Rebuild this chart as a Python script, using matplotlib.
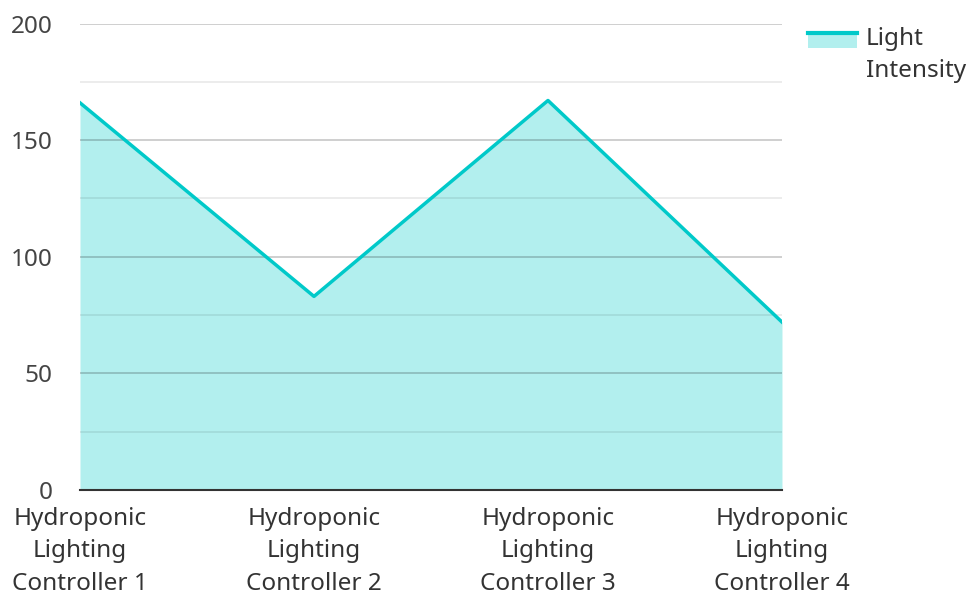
"""Light intensity per hydroponic lighting controller, area chart."""

import matplotlib

matplotlib.use("Agg")

import matplotlib.pyplot as plt
from matplotlib.legend_handler import HandlerBase
from matplotlib.lines import Line2D
from matplotlib.patches import Rectangle

controllers = [
    "Hydroponic\nLighting\nController 1",
    "Hydroponic\nLighting\nController 2",
    "Hydroponic\nLighting\nController 3",
    "Hydroponic\nLighting\nController 4",
]
light_intensity = [166, 83, 167, 72]
y_ticks = [0, 50, 100, 150, 200]
y_minor = [25, 75, 125, 175]

LINE = "#00C9C9"
FILL = "#B2EFEE"
FS = 17.5

plt.rcParams["font.family"] = ["Noto Sans", "DejaVu Sans"]


class AreaHandler(HandlerBase):
    # swatch sits beside the first line of a two-line label
    def create_artists(self, legend, orig, xd, yd, width, height, fontsize, trans):
        lift = 10.5
        patch = Rectangle((-xd, -yd + lift), width, height, facecolor=FILL,
                          edgecolor="none", transform=trans)
        top = -yd + height + lift
        line = Line2D([-xd, -xd + width], [top, top], color=LINE,
                      linewidth=3, transform=trans)
        return [patch, line]


fig = plt.figure(figsize=(9.72, 5.94), dpi=100)
ax = fig.add_axes([0.0823, 0.1751, 0.7222, 0.7853])

x = list(range(len(controllers)))
ax.fill_between(x, light_intensity, 0, color=FILL, linewidth=0, zorder=1)
ax.plot(x, light_intensity, color=LINE, linewidth=2.5, zorder=3)

for v in y_ticks[1:]:
    ax.axhline(v, color="black", alpha=0.22, linewidth=1.2, zorder=2)
for v in y_minor:
    ax.axhline(v, color="black", alpha=0.09, linewidth=1.2, zorder=2)

ax.set_xlim(0, len(controllers) - 1)
ax.set_ylim(0, 200)
ax.set_yticks(y_ticks)
ax.set_xticks(x)
ax.set_xticklabels(controllers, linespacing=1.45)
ax.tick_params(axis="y", length=0, pad=19.5, labelsize=FS, labelcolor="#444444")
ax.tick_params(axis="x", length=0, pad=12.5, labelsize=FS, labelcolor="#333333")

for side in ["left", "right", "top"]:
    ax.spines[side].set_visible(False)
ax.spines["bottom"].set_color("#333333")
ax.spines["bottom"].set_linewidth(1.5)
ax.spines["bottom"].set_zorder(4)

leg = fig.legend(
    [Rectangle((0, 0), 1, 1)],
    ["Light\nIntensity"],
    handler_map={Rectangle: AreaHandler()},
    loc="upper left",
    bbox_to_anchor=(0.809, 0.992),
    frameon=False,
    handlelength=2.0,
    handleheight=0.56,
    handletextpad=0.36,
    labelcolor="#333333",
    prop={"size": FS},
)
for t in leg.get_texts():
    t.set_linespacing(1.45)

fig.savefig("out.png", dpi=100)
plt.close(fig)
